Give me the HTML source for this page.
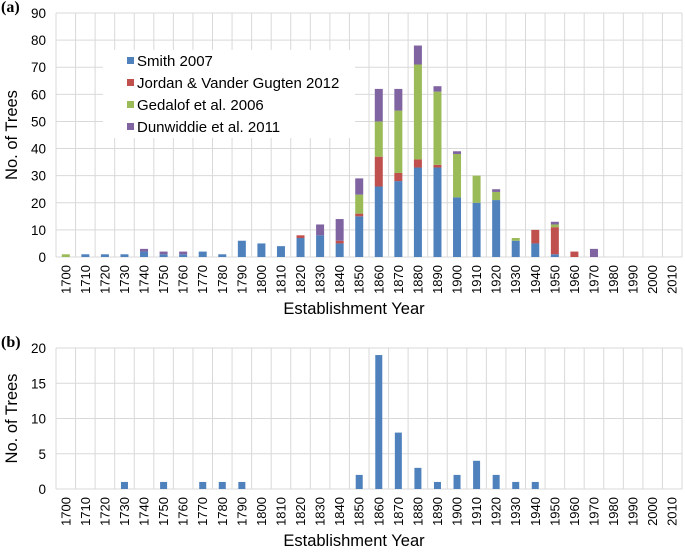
<!DOCTYPE html>
<html><head><meta charset="utf-8"><style>
body{margin:0;background:#fff;}
svg{display:block;font-family:"Liberation Sans",Arial,sans-serif;}
</style></head><body>
<svg id="c" width="685" height="553"></svg>
<script>
const years=[1700,1710,1720,1730,1740,1750,1760,1770,1780,1790,1800,1810,1820,1830,1840,1850,1860,1870,1880,1890,1900,1910,1920,1930,1940,1950,1960,1970,1980,1990,2000,2010];
const smith=[0,1,1,1,2,1,1,2,1,6,5,4,7,8,5,15,26,28,33,33,22,20,21,6,5,1,0,0,0,0,0,0];
const jordan=[0,0,0,0,0,0,0,0,0,0,0,0,1,0,1,1,11,3,3,1,0,0,0,0,5,10,2,0,0,0,0,0];
const gedalof=[1,0,0,0,0,0,0,0,0,0,0,0,0,0,0,7,13,23,35,27,16,10,3,1,0,1,0,0,0,0,0,0];
const dunwiddie=[0,0,0,0,1,1,1,0,0,0,0,0,0,4,8,6,12,8,7,2,1,0,1,0,0,1,0,3,0,0,0,0];
const seriesB=[0,0,0,1,0,1,0,1,1,1,0,0,0,0,0,2,19,8,3,1,2,4,2,1,1,0,0,0,0,0,0,0];
const ticksA=[0,10,20,30,40,50,60,70,80,90];
const ticksB=[0,5,10,15,20];
const seriesNames=["Smith 2007","Jordan & Vander Gugten 2012","Gedalof et al. 2006","Dunwiddie et al. 2011"];
const colors=["#4f81bd","#c0504d","#9bbb59","#8064a2"];

const svg=document.getElementById('c');
const NS="http://www.w3.org/2000/svg";
function mk(tag,attrs,parent){const e=document.createElementNS(NS,tag);for(const k in attrs)e.setAttribute(k,attrs[k]);(parent||svg).appendChild(e);return e;}

function panel(label,top,bottom,maxV,ticks,stacks,bw,key){
  const L=56,R=682,n=years.length,cw=(R-L)/n;
  const g=mk('g',{});
  
  
  const y=v=>bottom-(v/maxV)*(bottom-top);
  const xc=i=>L+cw*(i+0.5);
  for(let i=0;i<=n;i++){const l=mk('line',{x1:L+cw*i,x2:L+cw*i,y1:top,y2:bottom,stroke:'#d9d9d9','stroke-width':1},g);
    }
  ticks.forEach(t=>{const l=mk('line',{x1:L,x2:R,y1:y(t),y2:y(t),stroke:'#d9d9d9','stroke-width':1},g);
    
    const tx=mk('text',{x:L-10,y:y(t)+5,'text-anchor':'end','font-size':13.5,fill:'#000'},g);tx.textContent=t;
    });
  years.forEach((yr,i)=>{const tx=mk('text',{transform:`translate(${xc(i)+4.5},${bottom+8}) rotate(-90)`,'text-anchor':'end','font-size':13,fill:'#000'},g);tx.textContent=yr;
    });
  stacks.forEach((s,si)=>{s.forEach((v,i)=>{if(!v)return;let base=0;for(let k=0;k<si;k++)base+=stacks[k][i];
    const r=mk('rect',{x:xc(i)-bw/2,y:y(base+v),width:bw,height:y(base)-y(base+v),fill:colors[si]},g);
    });});
  const yt=mk('text',{transform:`translate(17,${(top+bottom)/2}) rotate(-90)`,'text-anchor':'middle','font-size':16.5,fill:'#000'},g);yt.textContent='No. of Trees';
  
  const xt=mk('text',{x:(L+R)/2-15,y:bottom+57,'text-anchor':'middle','font-size':16.5,fill:'#000'},g);xt.textContent='Establishment Year';
  
  const pl=mk('text',{x:1,y:top-1,'font-size':16,'font-weight':'bold','font-family':'"Liberation Serif",serif',fill:'#000'},g);pl.textContent=label;
  
}
panel('(a)',13,257,90,ticksA,[smith,jordan,gedalof,dunwiddie],8,'a');
panel('(b)',348,489,20,ticksB,[seriesB],7,'b');

const lg=mk('g',{});

const lb=mk('rect',{x:103,y:50,width:252,height:88,fill:'#fff'},lg);

seriesNames.forEach((nm,i)=>{const yy=61+i*22;
  const sw=mk('rect',{x:127,y:yy-4,width:7,height:7,fill:colors[i]},lg);
  
  const t=mk('text',{x:137,y:yy+5,'font-size':15,fill:'#000'},lg);t.textContent=nm;
  });
</script>
</body></html>
